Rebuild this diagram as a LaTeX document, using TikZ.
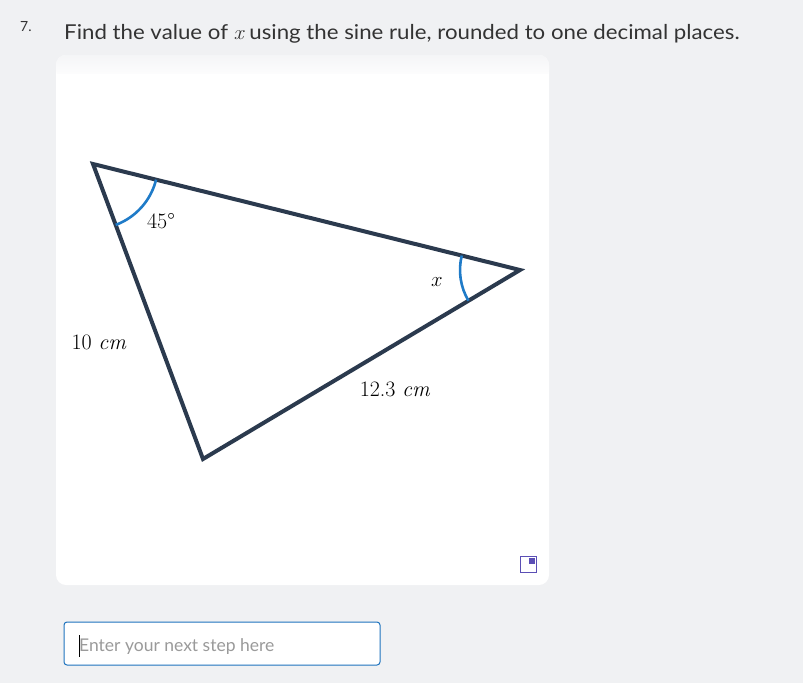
\documentclass[tikz,border=0pt]{standalone}
\usepackage{fontspec}
\setmainfont{Lato}
\newfontfamily\lmr{Latin Modern Roman}
\usetikzlibrary{angles}
\definecolor{bg}{HTML}{F0F1F3}
\definecolor{edge}{HTML}{2B3A4E}
\definecolor{arcblue}{HTML}{1F7BC8}
\definecolor{boxblue}{HTML}{1E73BE}
\definecolor{titlec}{HTML}{333333}
\definecolor{hint}{HTML}{9A9A9A}
\definecolor{iconc}{HTML}{5B4FB5}
\tikzset{
  side/.style={draw=edge, line width=4pt},
  anglearc/.style={draw=arcblue, line width=2.6pt},
  lbl/.style={font=\lmr\fontsize{22}{26}\selectfont, text=black, inner sep=0pt},
}
\begin{document}
\begin{tikzpicture}[x=1pt,y=-1pt]
\useasboundingbox (0,0) rectangle (803,683);
\fill[bg] (0,0) rectangle (803,683);
% card
\fill[white, rounded corners=10pt] (56,55) rectangle (549,585);
\shade[top color=bg!70, bottom color=white, rounded corners=10pt] (56,55) rectangle (549,80);
\fill[white] (56,74) rectangle (549,82);
% title
\node[anchor=base west, inner sep=0pt, text=titlec, font=\fontsize{14}{16}\selectfont] (num) at (20,31) {7.};
\node[anchor=base west, inner sep=0pt, text=titlec, font=\fontsize{20.5}{24}\selectfont, xscale=1.085] (title) at (64,39) {Find the value of {\lmr\itshape x} using the sine rule, rounded to one decimal places.};
% triangle
\coordinate (A) at (93,164);
\coordinate (B) at (520,270);
\coordinate (C) at (203,459);
\draw[side, line join=miter] (A) -- (B) -- (C) -- cycle;
\pic[anglearc, angle radius=65pt] {angle=C--A--B};
\pic[anglearc, angle radius=60pt] {angle=A--B--C};
\node[lbl] (a45) at (161,221) {45°};
\node[lbl] (ax) at (437,282) {$x$};
\node[lbl] (s10) at (99,342) {10 \textit{cm}};
\node[lbl] (s12) at (395,389) {12.3 \textit{cm}};
% icon
\draw[iconc, line width=1.8pt] (520.5,556.5) rectangle (536.5,572.5);
\fill[iconc] (529,558) rectangle (535,564);
% input box
\draw[boxblue, fill=white, line width=1pt, rounded corners=3pt] (64,622) rectangle (380,665);
\node[anchor=base west, inner sep=0pt, text=hint, font=\fontsize{17.5}{20}\selectfont] (hinttext) at (79,651) {Enter your next step here};
\draw[black, line width=1pt] (79.5,635) -- (79.5,657);
\end{tikzpicture}
\end{document}
